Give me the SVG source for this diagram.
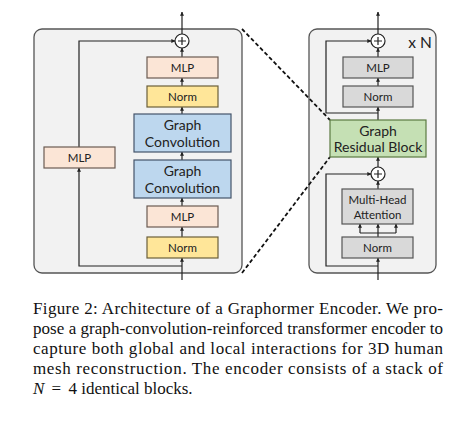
<svg xmlns="http://www.w3.org/2000/svg" width="474" height="423" viewBox="0 0 474 423">
<style>
.panel{fill:#f2f2f2;stroke:#555;stroke-width:1.3}
.mlp{fill:#fbe5d6;stroke:#6b5b52;stroke-width:1.2}
.norm{fill:#ffe699;stroke:#6b5f3a;stroke-width:1.2}
.gc{fill:#bdd7ee;stroke:#44546a;stroke-width:1.2}
.gray{fill:#d9d9d9;stroke:#555;stroke-width:1.2}
.green{fill:#c5e0b4;stroke:#5b7a42;stroke-width:1.2}
.plus{fill:#fff;stroke:#222;stroke-width:1.2}
.t{font-family:Lato,"Liberation Sans",sans-serif;fill:#222;text-anchor:middle}
.s{font-size:11.5px}
.b{font-size:14px}
.ln{fill:none;stroke:#222;stroke-width:1.2}
.dash{fill:none;stroke:#111;stroke-width:1.8;stroke-dasharray:4 2.5}
.cap{font-family:"Liberation Serif","Times New Roman",serif;font-size:17px;fill:#111}
</style>
<defs>
<marker id="ah" viewBox="0 0 6 6" refX="5.5" refY="3" markerWidth="4" markerHeight="4" orient="auto" markerUnits="userSpaceOnUse">
<path d="M0,0 L6,3 L0,6 z" fill="#222"/>
</marker>
</defs>
<g id="left-panel"><rect class="panel" x="34" y="29" width="208" height="244" rx="8"/></g>
<g id="right-panel"><rect class="panel" x="309" y="29" width="127" height="244" rx="8"/><text class="t" x="420" y="48" style="font-size:15.5px">x N</text></g>
<g id="connectors">
<path class="ln" marker-end="url(#ah)" d="M182,280 V258"/>
<path class="ln" marker-end="url(#ah)" d="M182,237 V227"/>
<path class="ln" marker-end="url(#ah)" d="M182,206 V198"/>
<path class="ln" marker-end="url(#ah)" d="M182,160 V152"/>
<path class="ln" marker-end="url(#ah)" d="M182,114 V107"/>
<path class="ln" marker-end="url(#ah)" d="M182,86 V78"/>
<path class="ln" marker-end="url(#ah)" d="M182,57 V48"/>
<path class="ln" marker-end="url(#ah)" d="M182,34 V12"/>
<path class="ln" marker-end="url(#ah)" d="M182,266 H79 V168"/>
<path class="ln" marker-end="url(#ah)" d="M79,147 V41 H175"/>
<path class="ln" marker-end="url(#ah)" d="M378,280 V258"/>
<path class="ln" d="M378,237 V233 M360,233 H396"/>
<path class="ln" marker-end="url(#ah)" d="M360,233 V224"/>
<path class="ln" marker-end="url(#ah)" d="M378,233 V224"/>
<path class="ln" marker-end="url(#ah)" d="M396,233 V224"/>
<path class="ln" marker-end="url(#ah)" d="M378,189 V181"/>
<path class="ln" marker-end="url(#ah)" d="M378,167 V157"/>
<path class="ln" marker-end="url(#ah)" d="M378,120 V107"/>
<path class="ln" marker-end="url(#ah)" d="M378,86 V78"/>
<path class="ln" marker-end="url(#ah)" d="M378,57 V48"/>
<path class="ln" marker-end="url(#ah)" d="M378,34 V12"/>
<path class="ln" marker-end="url(#ah)" d="M378,266 H326 V174 H371"/>
<path class="ln" marker-end="url(#ah)" d="M378,113 H326 V41 H371"/>
<path class="dash" d="M242,29 L330,120"/>
<path class="dash" d="M242,273 L330,157"/>
</g>
<g id="L-add"><circle class="plus" cx="182" cy="41" r="7"/><path class="ln" d="M178,41 H186 M182,37 V45"/></g>
<g id="L-mlp-top"><rect class="mlp" x="147" y="57" width="71" height="21"/><text class="t s" x="182.5" y="71.8">MLP</text></g>
<g id="L-norm-top"><rect class="norm" x="147" y="86" width="71" height="21"/><text class="t s" x="182.5" y="100.8">Norm</text></g>
<g id="L-gc1"><rect class="gc" x="134" y="114" width="97" height="38"/><text class="t b" x="182.5" y="130">Graph</text><text class="t b" x="182.5" y="147">Convolution</text></g>
<g id="L-gc2"><rect class="gc" x="134" y="160" width="97" height="38"/><text class="t b" x="182.5" y="176">Graph</text><text class="t b" x="182.5" y="193">Convolution</text></g>
<g id="L-mlp-low"><rect class="mlp" x="147" y="206" width="71" height="21"/><text class="t s" x="182.5" y="220.8">MLP</text></g>
<g id="L-norm-low"><rect class="norm" x="147" y="237" width="71" height="21"/><text class="t s" x="182.5" y="251.8">Norm</text></g>
<g id="L-mlp-side"><rect class="mlp" x="44" y="147" width="71" height="21"/><text class="t s" x="79.5" y="161.8">MLP</text></g>
<g id="R-add-top"><circle class="plus" cx="378" cy="41" r="7"/><path class="ln" d="M374,41 H382 M378,37 V45"/></g>
<g id="R-mlp"><rect class="gray" x="343" y="57" width="70" height="21"/><text class="t s" x="378" y="71.8">MLP</text></g>
<g id="R-norm-top"><rect class="gray" x="343" y="86" width="70" height="21"/><text class="t s" x="378" y="100.8">Norm</text></g>
<g id="R-graph-res"><rect class="green" x="330" y="120" width="96" height="37"/><text class="t b" x="378" y="135.5">Graph</text><text class="t b" x="378" y="152">Residual Block</text></g>
<g id="R-add-low"><circle class="plus" cx="378" cy="174" r="7"/><path class="ln" d="M374,174 H382 M378,170 V178"/></g>
<g id="R-mha"><rect class="gray" x="342" y="189" width="71" height="35"/><text class="t s" x="377.5" y="204">Multi-Head</text><text class="t s" x="377.5" y="218.5">Attention</text></g>
<g id="R-norm-low"><rect class="gray" x="342" y="237" width="71" height="21"/><text class="t s" x="377.5" y="251.8">Norm</text></g>
<g id="caption">
<text class="cap" x="33" y="314" textLength="410" lengthAdjust="spacing">Figure 2: Architecture of a Graphormer Encoder. We pro-</text>
<text class="cap" x="33" y="334" textLength="410" lengthAdjust="spacing">pose a graph-convolution-reinforced transformer encoder to</text>
<text class="cap" x="33" y="354" textLength="410" lengthAdjust="spacing">capture both global and local interactions for 3D human</text>
<text class="cap" x="33" y="374" textLength="410" lengthAdjust="spacing">mesh reconstruction. The encoder consists of a stack of</text>
<text class="cap" x="33" y="394"><tspan font-style="italic">N</tspan> <tspan dx="3">=</tspan> <tspan dx="3">4</tspan> identical blocks.</text>
</g>
</svg>
